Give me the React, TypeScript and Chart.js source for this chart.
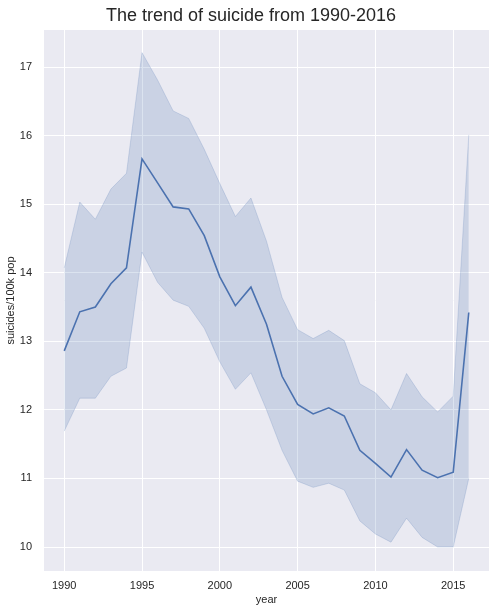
import React, { useEffect, useRef } from "react";
import { Chart, registerables } from "chart.js";

Chart.register(...registerables);

const years = [1990, 1991, 1992, 1993, 1994, 1995, 1996, 1997, 1998, 1999, 2000, 2001, 2002, 2003, 2004, 2005, 2006, 2007, 2008, 2009, 2010, 2011, 2012, 2013, 2014, 2015, 2016];
const meanValues = [12.86, 13.43, 13.5, 13.84, 14.07, 15.66, 15.31, 14.96, 14.93, 14.54, 13.94, 13.52, 13.79, 13.25, 12.49, 12.08, 11.94, 12.03, 11.91, 11.41, 11.22, 11.02, 11.42, 11.12, 11.01, 11.09, 13.42];
const upperValues = [14.07, 15.03, 14.78, 15.22, 15.45, 17.21, 16.81, 16.36, 16.25, 15.8, 15.3, 14.82, 15.09, 14.46, 13.64, 13.17, 13.04, 13.16, 13.01, 12.38, 12.25, 12.0, 12.53, 12.19, 11.97, 12.2, 16.01];
const lowerValues = [11.69, 12.17, 12.17, 12.49, 12.61, 14.3, 13.86, 13.6, 13.51, 13.19, 12.7, 12.3, 12.54, 12.0, 11.41, 10.96, 10.87, 10.93, 10.83, 10.38, 10.19, 10.07, 10.42, 10.14, 10.0, 10.0, 11.0];
const xTicks = [1990, 1995, 2000, 2005, 2010, 2015];
const yTicks = [10, 11, 12, 13, 14, 15, 16, 17];

const titleText = "The trend of suicide from 1990-2016";
const xLabel = "year";
const yLabel = "suicides/100k pop";

const FONT = "'Liberation Sans', Arial, sans-serif";
const TEXT = "#262626";
const LINE = "#4C72B0";
const BAND = "rgba(76,114,176,0.2)";

const bgPlugin = {
  id: "bgPlugin",
  beforeDraw(chart: any) {
    const { ctx, chartArea } = chart;
    ctx.save();
    ctx.fillStyle = "#EAEAF2";
    ctx.fillRect(chartArea.left, chartArea.top, chartArea.right - chartArea.left, chartArea.bottom - chartArea.top);
    ctx.restore();
  },
};

const titlePlugin = {
  id: "centeredTitle",
  afterDraw(chart: any) {
    const { ctx, width } = chart;
    ctx.save();
    ctx.fillStyle = TEXT;
    ctx.font = `18px ${FONT}`;
    ctx.textAlign = "center";
    ctx.textBaseline = "middle";
    ctx.fillText(titleText, width / 2, 16);
    ctx.restore();
  },
};

export default function App() {
  const ref = useRef<HTMLCanvasElement>(null);
  useEffect(() => {
    if (!ref.current) return;
    const pts = (vals: number[]) => years.map((y, i) => ({ x: y, y: vals[i] }));
    const chart = new Chart(ref.current, {
      type: "line",
      data: {
        datasets: [
          {
            data: pts(upperValues),
            borderColor: BAND,
            backgroundColor: BAND,
            borderWidth: 1,
            pointRadius: 0,
            fill: "+1",
            tension: 0,
          },
          {
            data: pts(lowerValues),
            borderColor: BAND,
            backgroundColor: BAND,
            borderWidth: 1,
            pointRadius: 0,
            fill: false,
            tension: 0,
          },
          {
            data: pts(meanValues),
            borderColor: LINE,
            backgroundColor: LINE,
            borderWidth: 1.6,
            pointRadius: 0,
            fill: false,
            tension: 0,
          },
        ],
      },
      options: {
        responsive: false,
        animation: false,
        devicePixelRatio: 1,
        layout: { padding: { left: 0, right: 13, top: 30, bottom: 0 } },
        plugins: {
          legend: { display: false },
          tooltip: { enabled: false },
          title: { display: false },
        },
        scales: {
          x: {
            type: "linear",
            min: 1988.7,
            max: 2017.3,
            afterBuildTicks: (s: any) => {
              s.ticks = xTicks.map((v) => ({ value: v }));
            },
            afterFit: (s: any) => {
              s.height = 41;
            },
            border: { display: false },
            grid: { color: "#FFFFFF", lineWidth: 1, drawTicks: false },
            ticks: {
              color: TEXT,
              font: { family: FONT, size: 11 },
              padding: 8,
              maxRotation: 0,
              callback: (v: any) => String(v),
            },
            title: {
              display: true,
              text: xLabel,
              color: TEXT,
              font: { family: FONT, size: 11 },
              padding: { top: 0, bottom: 5 },
            },
          },
          y: {
            type: "linear",
            min: 9.65,
            max: 17.54,
            afterBuildTicks: (s: any) => {
              s.ticks = yTicks.map((v) => ({ value: v }));
            },
            afterFit: (s: any) => {
              s.width = 44;
            },
            border: { display: false },
            grid: { color: "#FFFFFF", lineWidth: 1, drawTicks: false },
            ticks: {
              color: TEXT,
              font: { family: FONT, size: 11 },
              padding: 12,
              callback: (v: any) => String(v),
            },
            title: {
              display: true,
              text: yLabel,
              color: TEXT,
              font: { family: FONT, size: 11 },
              padding: { top: 4, bottom: 0 },
            },
          },
        },
      },
      plugins: [bgPlugin, titlePlugin],
    });
    return () => chart.destroy();
  }, []);
  return (
    <div style={{ position: "fixed", left: 0, top: 0, width: 502, height: 612, background: "#FFFFFF" }}>
      <canvas ref={ref} width={502} height={612} style={{ width: 502, height: 612, display: "block" }} />
    </div>
  );
}
